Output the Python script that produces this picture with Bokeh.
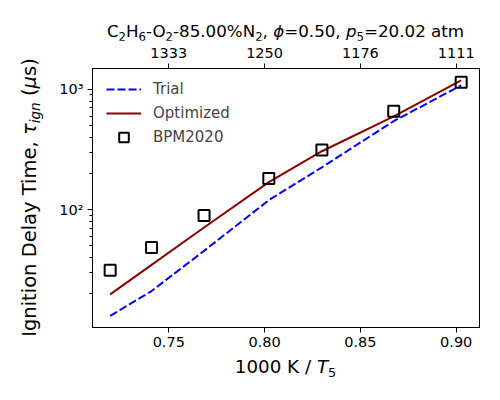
from bokeh.plotting import figure
from bokeh.layouts import column, row
from bokeh.models import Range1d, LinearAxis, FixedTicker, Legend, LegendItem, NumeralTickFormatter, Div
from bokeh.embed import file_html
from bokeh.resources import INLINE

# ---------------- data ----------------
exp_x = [0.7194, 0.7410, 0.7684, 0.8022, 0.8299, 0.8674, 0.9026]
exp_tau = [31.4, 48.5, 89.6, 182.0, 314.0, 659.0, 1144.0]
sim_x = [0.7194, 0.7410, 0.7684, 0.8022, 0.8299, 0.8674, 0.9026]
trial_tau = [13.1, 21.1, 45.5, 120.0, 225.0, 545.0, 1080.0]
opt_tau = [19.8, 34.8, 71.2, 169.5, 306.0, 596.0, 1189.0]

bottom_ticks = [0.75, 0.80, 0.85, 0.90]
top_ticks = [0.75, 0.80, 0.85, 0.90]
top_labels = [str(int(1000.0 / t)) for t in top_ticks]
y_major = [100, 1000]
y_major_labels = ["10\u00b2", "10\u00b3"]
y_minor = [20, 30, 40, 50, 60, 70, 80, 90, 200, 300, 400, 500, 600, 700, 800, 900]

# text pieces: (text, kind) kind: n normal, i italic, s subscript
title_pieces = [("C", "n"), ("2", "s"), ("H", "n"), ("6", "s"), ("-O", "n"), ("2", "s"),
                ("-85.00%N", "n"), ("2", "s"), (", ", "n"), ("\u03d5", "i"), ("=0.50, ", "n"),
                ("p", "i"), ("5", "s"), ("=20.02 atm", "n")]
xlabel_pieces = [("1000 K / ", "n"), ("T", "i"), ("5", "s")]
ylabel_pieces = [("Ignition Delay Time, ", "n"), ("\u03c4", "i"), ("ign", "si"),
                 (" (", "n"), ("\u03bc", "i"), ("s)", "n")]

# ---------------- layout ----------------
TW, TH = 500, 400
HT = 40            # title strip height
LS_W = 44          # left strip width (y label)
BL, BR, BT, BB = 48, 21, 28, 28
MW = TW - LS_W
FH = 259
MH = BT + FH + BB
HB = TH - HT - MH
FW = MW - BL - BR
FRAME_L = LS_W + BL
FRAME_T = HT + BT
X0, X1 = 0.71018, 0.91216
Y0, Y1 = 10.5, 1490.0
FONT = "DejaVu Sans"


def svg_text(pieces, size, attrs):
    sub = round(size * 0.7, 2)
    shift = round(size * 0.2, 2)
    out = []
    low = False
    for t, k in pieces:
        a = []
        st = [f"font-family:'{FONT}'"]
        if "s" in k:
            st.append(f"font-size:{sub}px")
            if not low:
                a.append(f'dy="{shift}"')
                low = True
        else:
            st.append(f"font-size:{size}px")
            if low:
                a.append(f'dy="{-shift}"')
                low = False
        st.append("font-style:italic" if "i" in k else "font-style:normal")
        out.append(f'<tspan {" ".join(a)} style="{";".join(st)}">{t}</tspan>')
    return (f'<text {attrs} fill="black" xml:space="preserve" '
            f'style="white-space:pre;font-family:\'{FONT}\';font-size:{size}px">'
            + "".join(out) + "</text>")


def svg_div(w, h, body):
    return Div(text=f'<svg xmlns="http://www.w3.org/2000/svg" width="{w}" height="{h}" '
                    f'style="display:block;overflow:visible">{body}</svg>',
               width=w, height=h, margin=0)

# ---------------- main figure ----------------
p = figure(width=MW, height=MH, x_range=Range1d(X0, X1), y_range=Range1d(Y0, Y1),
           y_axis_type="log", output_backend="svg", toolbar_location=None, title=None,
           min_border_left=BL, min_border_right=BR, min_border_top=BT, min_border_bottom=BB)
p.xgrid.visible = False
p.ygrid.visible = False
p.outline_line_color = "black"
p.outline_line_width = 1
p.background_fill_color = "white"
p.border_fill_color = "white"

bottom_axis = p.below[0]
left_axis = p.left[0]
top_axis = LinearAxis(ticker=FixedTicker(ticks=top_ticks, minor_ticks=[]),
                      major_label_overrides={t: l for t, l in zip(top_ticks, top_labels)})
p.add_layout(top_axis, "above")

bottom_axis.ticker = FixedTicker(ticks=bottom_ticks, minor_ticks=[])
bottom_axis.formatter = NumeralTickFormatter(format="0.00")
left_axis.ticker = FixedTicker(ticks=y_major, minor_ticks=y_minor)
left_axis.major_label_overrides = {t: l for t, l in zip(y_major, y_major_labels)}

for ax in [bottom_axis, left_axis, top_axis]:
    ax.axis_line_color = "black"
    ax.major_tick_line_color = "black"
    ax.minor_tick_line_color = "black"
    ax.major_tick_out = 5
    ax.major_tick_in = 0
    ax.minor_tick_out = 3
    ax.minor_tick_in = 0
    ax.major_label_text_font = FONT
    ax.major_label_text_font_size = "14.5px"
    ax.major_label_text_color = "black"
    ax.major_label_standoff = 4
top_axis.major_label_standoff = 6

r_trial = p.line(sim_x, trial_tau, line_color="blue", line_width=2, line_dash="8 3")
r_opt = p.line(sim_x, opt_tau, line_color="darkred", line_width=2)
r_exp = p.scatter(exp_x, exp_tau, marker="square", size=11, fill_color=None,
                  line_color="black", line_width=2)

legend = Legend(items=[LegendItem(label="Trial", renderers=[r_trial]),
                       LegendItem(label="Optimized", renderers=[r_opt]),
                       LegendItem(label="BPM2020", renderers=[r_exp])],
                location=(14, 178), margin=0, padding=0, spacing=0,
                glyph_width=35, glyph_height=24, label_height=24, label_standoff=12,
                label_text_font=FONT, label_text_font_size="15px",
                border_line_color=None, background_fill_alpha=0)
p.add_layout(legend)

# ---------------- text strips ----------------
cx = FRAME_L + FW / 2
title_div = svg_div(TW, HT, svg_text(title_pieces, 16.7,
                                     f'x="{cx}" y="37.3" text-anchor="middle"'))
cy_local = FRAME_T + FH / 2 - HT
ylab_div = svg_div(LS_W, MH, svg_text(ylabel_pieces, 19.5,
                                      f'x="0" y="0" text-anchor="middle" '
                                      f'transform="translate(36,{cy_local}) rotate(-90)"'))
xlab_div = svg_div(TW, HB, svg_text(xlabel_pieces, 18.3,
                                    f'x="{cx}" y="{373.3 - (HT + MH)}" text-anchor="middle"'))

layout = column(title_div, row(ylab_div, p, spacing=0), xlab_div, spacing=0)
open("out.html", "w").write(file_html(layout, INLINE))
